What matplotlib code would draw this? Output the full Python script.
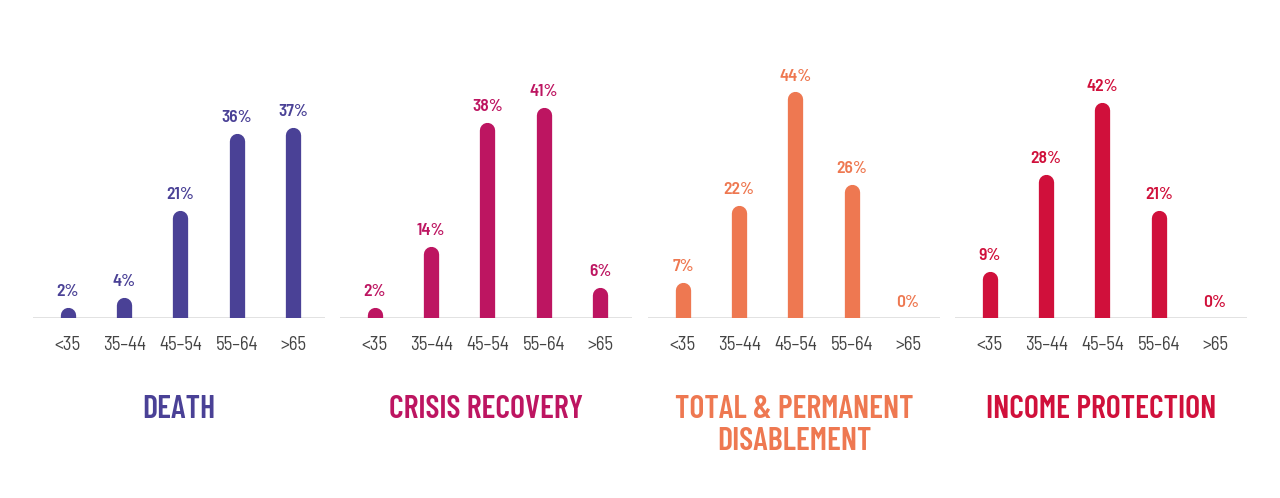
import matplotlib
matplotlib.use("Agg")
import matplotlib.pyplot as plt

ages = ["<35", "35\u201344", "45\u201354", "55\u201364", ">65"]

death = [2, 4, 21, 36, 37]
crisis = [2, 14, 38, 41, 6]
tpd = [7, 22, 44, 26, 0]
income = [9, 28, 42, 21, 0]

titles = ["DEATH", "CRISIS RECOVERY", "TOTAL & PERMANENT\nDISABLEMENT", "INCOME PROTECTION"]
colors = ["#4a4196", "#bd1561", "#ee7851", "#d0103b"]
series = [death, crisis, tpd, income]

plt.rcParams['font.family'] = ['Barlow Semi Condensed', 'DejaVu Sans']

fig = plt.figure(figsize=(12.8, 4.98), dpi=100)
fig.patch.set_facecolor("white")

W, H = 1280, 498
left_px = [33, 340, 648, 955]
panel_w = 292
base_px = 318
ymax = 50
px_per_unit = 5.14
bar_lw = 11
cap = bar_lw / 72 * 100 / 2 / px_per_unit  # round cap radius in data units

for i, (vals, title, col) in enumerate(zip(series, titles, colors)):
    x0 = left_px[i]
    ax_h = ymax * px_per_unit
    ax = fig.add_axes([x0 / W, (H - base_px) / H, panel_w / W, ax_h / H])
    xs = range(len(ages))
    for x, v in zip(xs, vals):
        if v > 0:
            ax.plot([x, x], [0, max(v - cap, 0.01)], color=col, lw=bar_lw,
                    solid_capstyle='round', zorder=3)
        ax.annotate(f"{v}%", (x, v), xytext=(0, 6), textcoords="offset points",
                    ha="center", va="bottom", color=col, fontsize=12.5, fontweight="semibold")
    ax.set_xlim(-0.62, 4.57)
    ax.set_ylim(0, ymax)
    ax.axhline(0, color="#dddddd", lw=1.2, zorder=1)
    for s in ax.spines.values():
        s.set_visible(False)
    ax.set_yticks([])
    ax.set_xticks(list(xs))
    ax.set_xticklabels(ages, fontsize=13.5, color="#444444")
    ax.tick_params(axis="x", length=0, pad=13)
    ax.set_facecolor("none")
    cx = (x0 + panel_w / 2) / W
    fig.text(cx, 1 - 395 / H, title, ha="center", va="top", color=col,
             family=['Barlow Condensed', 'DejaVu Sans'],
             fontsize=23, fontweight="semibold", linespacing=1.12)

fig.savefig("out.png", dpi=100, facecolor="white")
